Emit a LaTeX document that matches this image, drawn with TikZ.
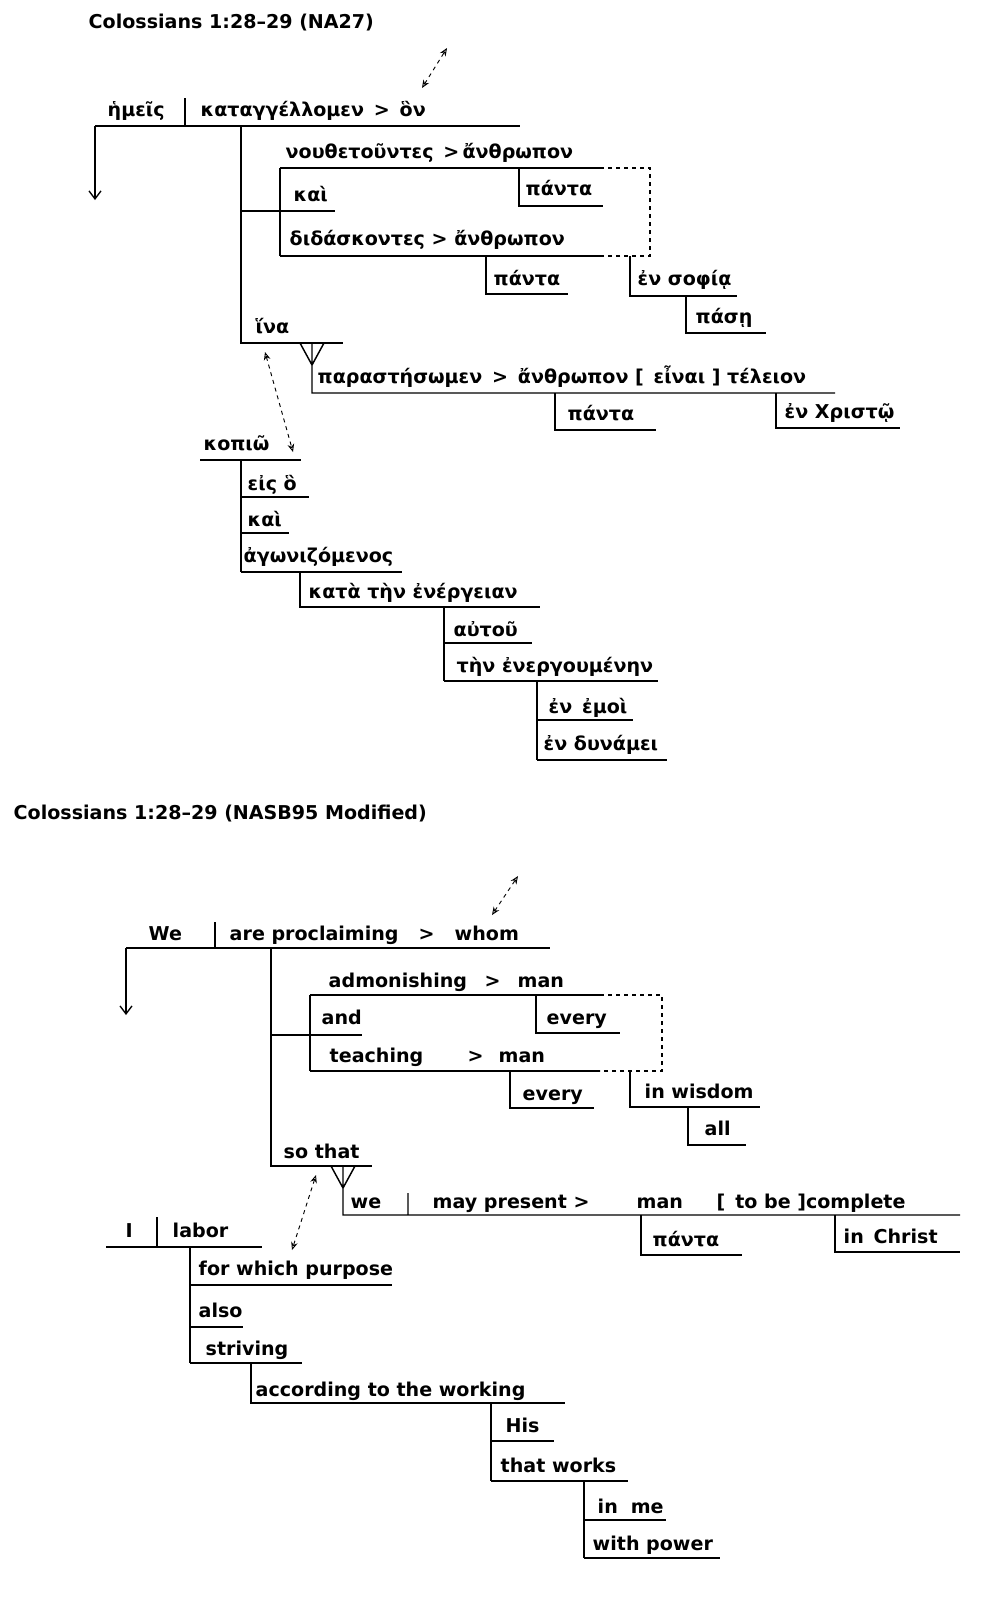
\documentclass[tikz,border=0pt]{standalone}
\usepackage{fontspec}
\setmainfont{DejaVu Sans}
\usetikzlibrary{arrows.meta}
\begin{document}
\begin{tikzpicture}[x=0.75pt,y=-0.75pt,line width=1.1pt,
 t/.style={anchor=base west,inner sep=0pt,font=\fontsize{14.3}{17}\selectfont\bfseries},
 dsh/.style={dashed,line width=0.8pt},
 da/.style={dashed,line width=0.7pt,{Stealth[open,length=6pt,width=5pt]}-{Stealth[open,length=6pt,width=5pt]}},
 dn/.style={-{Straight Barb[length=6pt,width=9pt]},line width=1pt}]
\useasboundingbox (0,0) rectangle (987,1600);
% ---------- Greek ----------
\node[t] (g0) at (88,28) {Colossians 1:28–29 (NA27)};
\draw[da] (422,88) -- (447,48);
\node[t] (g1) at (107,116) {ἡμεῖς};
\node[t] (g2) at (200,116) {καταγγέλλομεν \,>\, ὃν};
\draw (95,126) -- (520,126) (185,98) -- (185,126);
\draw[dn] (95,126) -- (95,200);
\draw (241,126) -- (241,343) -- (343,343) (241,211) -- (280,211) (280,168) -- (280,256);
\node[t] at (255,333) {ἵνα};
\node[t] at (285,158) {νουθετοῦντες \,>\,ἄνθρωπον};
\draw (280,168) -- (600,168) (280,256) -- (600,256);
\draw[dsh] (600,168) -- (650,168) -- (650,256) -- (600,256);
\node[t] at (293,201) {καὶ}; \draw (280,211) -- (335,211);
\node[t] at (525,195) {πάντα}; \draw (519,168) -- (519,206) -- (603,206);
\node[t] at (289,245) {διδάσκοντες > ἄνθρωπον};
\node[t] at (493,285) {πάντα}; \draw (486,256) -- (486,294) -- (568,294);
\node[t] at (637,285) {ἐν σοφίᾳ}; \draw (630,256) -- (630,296) -- (737,296);
\node[t] at (695,323) {πάσῃ}; \draw (686,296) -- (686,333) -- (766,333);
\draw (300,343) -- (312,365) -- (324,343) (312,343) -- (312,393) -- (835,393);
\node[t] at (317,383) {παραστήσωμεν \,>\, ἄνθρωπον [\, εἶναι ] τέλειον};
\node[t] at (567,420) {πάντα}; \draw (555,393) -- (555,430) -- (656,430);
\node[t] at (784,418) {ἐν Χριστῷ}; \draw (776,393) -- (776,428) -- (900,428);
\draw[da] (265,352) -- (293,452);
\node[t] at (203,450) {κοπιῶ}; \draw (200,460) -- (301,460) (241,460) -- (241,572);
\node[t] at (247,490) {εἰς ὃ}; \draw (241,497) -- (309,497);
\node[t] at (247,526) {καὶ}; \draw (241,533) -- (289,533);
\node[t] at (243,562) {ἀγωνιζόμενος}; \draw (241,572) -- (402,572);
\draw (300,572) -- (300,607) -- (540,607);
\node[t] at (308,598) {κατὰ τὴν ἐνέργειαν};
\draw (444,607) -- (444,681);
\node[t] at (453,636) {αὐτοῦ}; \draw (444,643) -- (532,643);
\node[t] at (456,672) {τὴν ἐνεργουμένην}; \draw (444,681) -- (658,681);
\draw (537,681) -- (537,760);
\node[t] at (548,713) {ἐν \,ἐμοὶ}; \draw (537,720) -- (633,720);
\node[t] at (543,750) {ἐν δυνάμει}; \draw (537,760) -- (667,760);
% ---------- English ----------
\node[t] at (13,819) {Colossians 1:28–29 (NASB95 Modified)};
\draw[da] (492,915) -- (518,876);
\node[t] at (148,940) {We};
\node[t] at (229,940) {are proclaiming};
\node[t] at (418,940) {>}; \node[t] at (454,940) {whom};
\draw (126,948) -- (550,948) (215,922) -- (215,948);
\draw[dn] (126,948) -- (126,1015);
\draw (271,948) -- (271,1166) -- (372,1166) (271,1035) -- (310,1035) (310,995) -- (310,1071);
\node[t] at (283,1158) {so that};
\node[t] at (328,987) {admonishing}; \node[t] at (484,987) {>}; \node[t] at (517,987) {man};
\draw (310,995) -- (600,995) (310,1071) -- (600,1071);
\draw[dsh] (600,995) -- (662,995) -- (662,1071) -- (600,1071);
\node[t] at (321,1024) {and}; \draw (310,1035) -- (362,1035);
\node[t] at (546,1024) {every}; \draw (536,995) -- (536,1033) -- (620,1033);
\node[t] at (329,1062) {teaching}; \node[t] at (467,1062) {>}; \node[t] at (498,1062) {man};
\node[t] at (522,1100) {every}; \draw (510,1071) -- (510,1108) -- (594,1108);
\node[t] at (644,1098) {in wisdom}; \draw (630,1071) -- (630,1107) -- (760,1107);
\node[t] at (704,1135) {all}; \draw (688,1107) -- (688,1145) -- (746,1145);
\draw (331,1166) -- (343,1188) -- (355,1166) (343,1166) -- (343,1215) -- (960,1215) (408,1193) -- (408,1215);
\node[t] at (350,1208) {we};
\node[t] at (432,1208) {may present >};
\node[t] at (636,1208) {man};
\node[t] at (716,1208) {[\, to be ]complete};
\node[t] at (652,1246) {πάντα}; \draw (641,1215) -- (641,1255) -- (742,1255);
\node[t] at (843,1243) {in \,Christ}; \draw (835,1215) -- (835,1252) -- (960,1252);
\draw[da] (316,1175) -- (292,1250);
\node[t] at (125,1237) {I}; \node[t] at (172,1237) {labor};
\draw (106,1247) -- (262,1247) (157,1217) -- (157,1247) (190,1247) -- (190,1363);
\node[t] at (198,1275) {for which purpose}; \draw (190,1285) -- (392,1285);
\node[t] at (198,1317) {also}; \draw (190,1327) -- (243,1327);
\node[t] at (205,1355) {striving}; \draw (190,1363) -- (302,1363);
\draw (251,1363) -- (251,1403) -- (565,1403);
\node[t] at (255,1396) {according to the working};
\draw (491,1403) -- (491,1481);
\node[t] at (505,1432) {His}; \draw (491,1441) -- (554,1441);
\node[t] at (500,1472) {that works}; \draw (491,1481) -- (628,1481);
\draw (584,1481) -- (584,1558);
\node[t] at (597,1513) {in \,\,me}; \draw (584,1520) -- (666,1520);
\node[t] at (592,1550) {with power}; \draw (584,1558) -- (720,1558);
\end{tikzpicture}
\end{document}
